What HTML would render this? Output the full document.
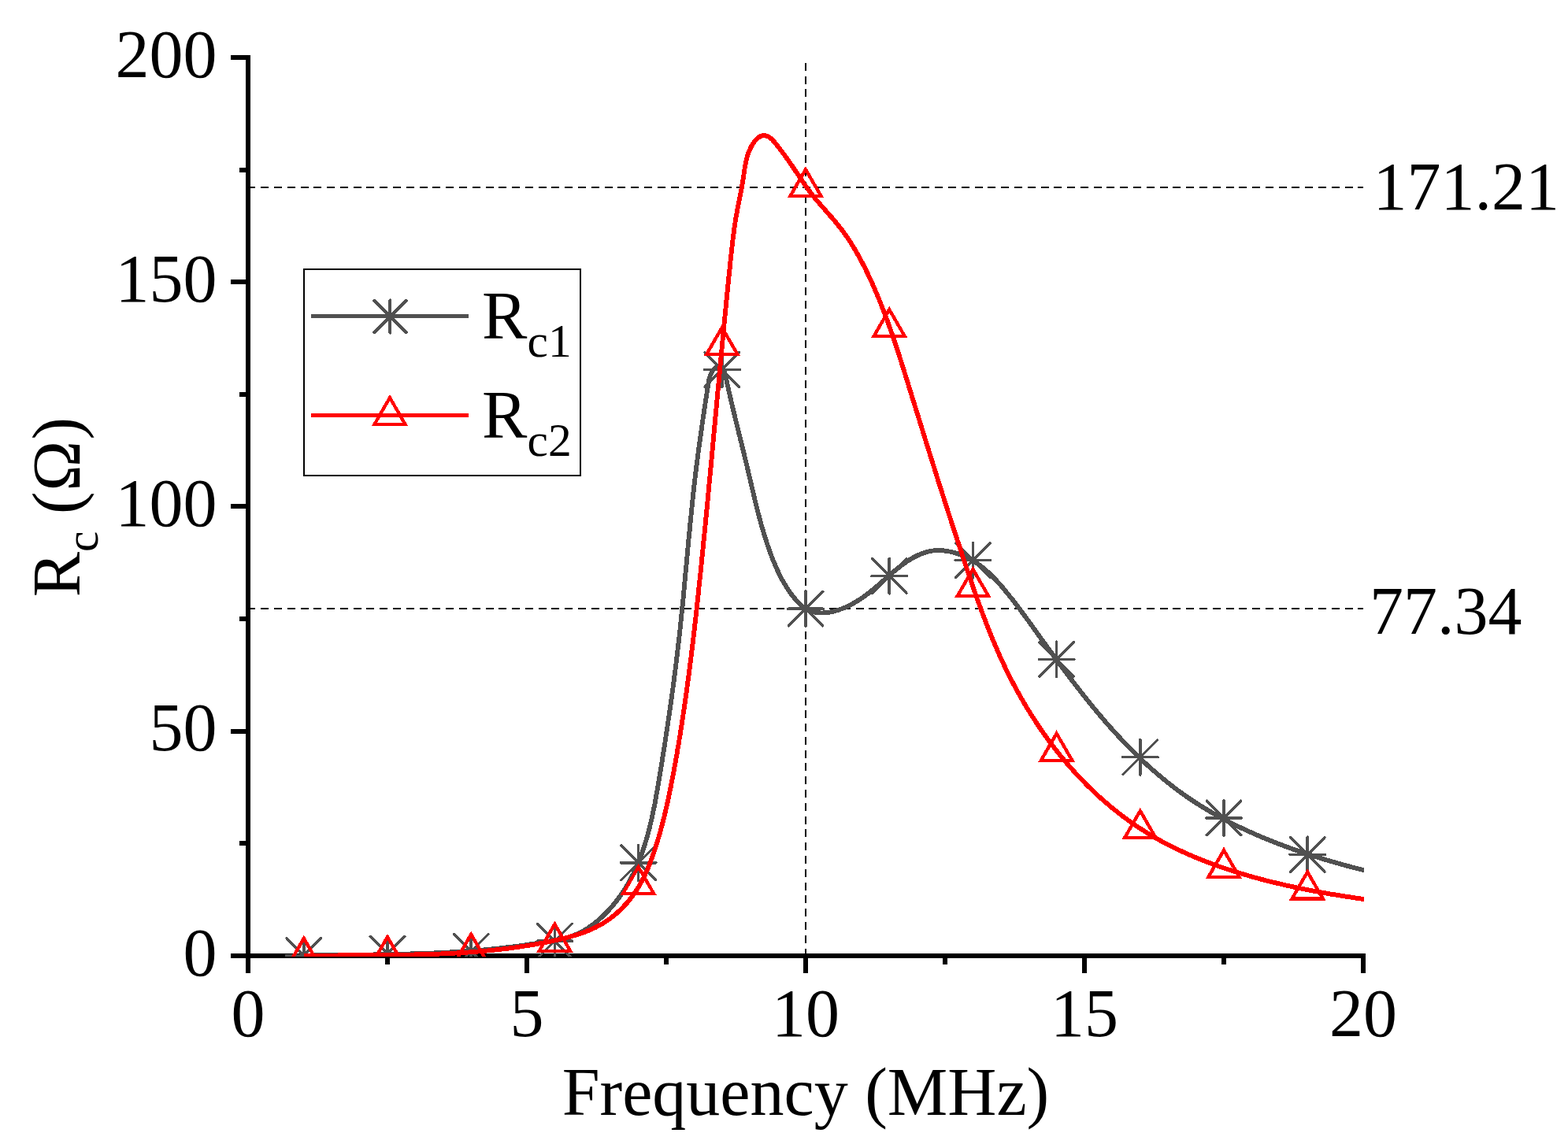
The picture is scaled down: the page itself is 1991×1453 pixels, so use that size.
<!DOCTYPE html>
<html lang="en"><head><meta charset="utf-8"><title>Rc versus Frequency</title>
<style>
html,body{margin:0;padding:0;background:#fff;}
body{width:1991px;height:1453px;overflow:hidden;}
svg{display:block;}
text{font-family:"Liberation Serif", "DejaVu Serif", serif;fill:#000;}
</style></head><body>
<svg width="1991" height="1453" viewBox="0 0 1991 1453">
<rect x="0" y="0" width="1991" height="1453" fill="#ffffff"/>
<defs><clipPath id="plot"><rect x="315" y="60" width="1417" height="1155"/></clipPath></defs>
<g stroke="#000" stroke-width="2.4" fill="none" stroke-dasharray="10 6.786" shape-rendering="crispEdges">
<path d="M314.4,237.9 H1731.2"/>
<path d="M314.4,772.9 H1731.2"/>
<path d="M1023.1,1214.5 V79"/>
</g>
<g fill="#000" shape-rendering="crispEdges">
<rect x="312" y="70" width="6" height="1166"/>
<rect x="293" y="1211" width="1441" height="6"/>
<rect x="293" y="70" width="20" height="6"/>
<rect x="293" y="355" width="20" height="6"/>
<rect x="293" y="640" width="20" height="6"/>
<rect x="293" y="926" width="20" height="6"/>
<rect x="293" y="1211" width="20" height="6"/>
<rect x="304" y="213" width="9" height="6"/>
<rect x="304" y="498" width="9" height="6"/>
<rect x="304" y="783" width="9" height="6"/>
<rect x="304" y="1068" width="9" height="6"/>
<rect x="312" y="1216" width="6" height="20"/>
<rect x="666" y="1216" width="6" height="20"/>
<rect x="1020" y="1216" width="6" height="20"/>
<rect x="1374" y="1216" width="6" height="20"/>
<rect x="1728" y="1216" width="6" height="20"/>
<rect x="489" y="1216" width="6" height="9"/>
<rect x="843" y="1216" width="6" height="9"/>
<rect x="1197" y="1216" width="6" height="9"/>
<rect x="1551" y="1216" width="6" height="9"/>
</g>
<g clip-path="url(#plot)" fill="none" shape-rendering="crispEdges">
<path d="M385.8,1213.7 L389.7,1213.6 L393.6,1213.5 L397.6,1213.5 L401.5,1213.4 L405.4,1213.3 L409.3,1213.3 L413.3,1213.2 L417.2,1213.2 L421.1,1213.1 L425.0,1213.1 L429.0,1213.0 L432.9,1213.0 L436.8,1212.9 L440.7,1212.9 L444.7,1212.8 L448.6,1212.8 L452.5,1212.7 L456.4,1212.7 L460.4,1212.6 L464.3,1212.6 L468.2,1212.5 L472.1,1212.5 L476.1,1212.4 L480.0,1212.3 L483.9,1212.3 L487.8,1212.2 L491.8,1212.1 L495.7,1212.1 L499.6,1212.0 L503.5,1211.9 L507.5,1211.8 L511.4,1211.7 L515.3,1211.6 L519.2,1211.5 L523.2,1211.4 L527.1,1211.3 L531.0,1211.2 L534.9,1211.0 L538.9,1210.9 L542.8,1210.8 L546.7,1210.6 L550.6,1210.5 L554.5,1210.3 L558.5,1210.1 L562.4,1209.9 L566.3,1209.7 L570.2,1209.5 L574.1,1209.3 L578.0,1209.1 L582.0,1208.8 L585.9,1208.6 L589.8,1208.3 L593.7,1208.0 L597.6,1207.8 L601.5,1207.5 L605.4,1207.1 L609.4,1206.8 L613.3,1206.5 L617.2,1206.1 L621.1,1205.8 L625.0,1205.4 L628.9,1205.0 L632.8,1204.6 L636.7,1204.1 L640.6,1203.7 L644.5,1203.2 L648.4,1202.8 L652.3,1202.3 L656.2,1201.8 L660.1,1201.3 L664.0,1200.7 L667.9,1200.2 L671.8,1199.6 L675.6,1199.0 L679.5,1198.4 L683.4,1197.8 L687.3,1197.2 L691.1,1196.5 L695.0,1195.9 L698.9,1195.2 L702.7,1194.5 L706.6,1193.8 L710.4,1193.1 L714.2,1192.3 L718.0,1191.4 L721.8,1190.4 L725.5,1189.2 L729.1,1187.8 L732.7,1186.3 L736.3,1184.6 L739.8,1182.8 L743.2,1180.8 L746.6,1178.7 L749.9,1176.4 L753.1,1174.1 L756.3,1171.6 L759.4,1169.0 L762.4,1166.4 L765.4,1163.6 L768.3,1160.8 L771.1,1158.0 L773.8,1155.1 L776.4,1152.1 L779.0,1149.1 L781.4,1146.1 L783.8,1143.0 L786.1,1139.9 L788.4,1136.8 L790.6,1133.6 L792.7,1130.3 L794.7,1127.1 L796.7,1123.8 L798.6,1120.4 L800.5,1117.0 L802.2,1113.6 L804.0,1110.2 L805.6,1106.7 L807.2,1103.2 L808.8,1099.7 L810.3,1096.2 L811.7,1092.6 L813.1,1089.0 L814.5,1085.3 L815.8,1081.7 L817.0,1078.0 L818.2,1074.3 L819.4,1070.6 L820.5,1066.8 L821.6,1063.1 L822.7,1059.3 L823.7,1055.5 L824.7,1051.7 L825.6,1047.9 L826.5,1044.0 L827.4,1040.2 L828.3,1036.3 L829.1,1032.4 L829.9,1028.6 L830.7,1024.7 L831.5,1020.8 L832.2,1016.9 L832.9,1013.0 L833.6,1009.0 L834.3,1005.1 L835.0,1001.2 L835.7,997.3 L836.3,993.4 L837.0,989.4 L837.6,985.5 L838.3,981.6 L838.9,977.7 L839.5,973.8 L840.2,969.9 L840.8,966.0 L841.4,962.1 L842.0,958.2 L842.6,954.3 L843.2,950.4 L843.9,946.5 L844.5,942.6 L845.1,938.7 L845.6,934.8 L846.2,930.9 L846.8,927.1 L847.4,923.2 L848.0,919.3 L848.5,915.4 L849.1,911.6 L849.7,907.7 L850.2,903.8 L850.8,900.0 L851.3,896.1 L851.9,892.2 L852.4,888.4 L853.0,884.5 L853.5,880.6 L854.0,876.8 L854.6,872.9 L855.1,869.0 L855.6,865.2 L856.1,861.3 L856.6,857.4 L857.1,853.6 L857.6,849.7 L858.1,845.8 L858.6,842.0 L859.0,838.1 L859.5,834.2 L860.0,830.3 L860.4,826.5 L860.9,822.6 L861.3,818.7 L861.8,814.8 L862.2,810.9 L862.7,807.1 L863.1,803.2 L863.5,799.3 L863.9,795.4 L864.3,791.5 L864.7,787.6 L865.1,783.7 L865.5,779.8 L865.9,775.9 L866.3,772.0 L866.7,768.1 L867.1,764.2 L867.5,760.3 L867.9,756.3 L868.2,752.4 L868.6,748.5 L869.0,744.6 L869.3,740.7 L869.7,736.8 L870.1,732.8 L870.4,728.9 L870.8,725.0 L871.2,721.1 L871.5,717.2 L871.9,713.2 L872.3,709.3 L872.6,705.4 L873.0,701.5 L873.3,697.5 L873.7,693.6 L874.1,689.7 L874.4,685.8 L874.8,681.9 L875.2,677.9 L875.6,674.0 L875.9,670.1 L876.3,666.2 L876.7,662.3 L877.1,658.3 L877.5,654.4 L877.9,650.5 L878.3,646.6 L878.7,642.7 L879.1,638.8 L879.5,634.9 L879.9,631.0 L880.3,627.1 L880.7,623.1 L881.2,619.2 L881.6,615.3 L882.1,611.4 L882.5,607.6 L883.0,603.7 L883.4,599.8 L883.9,595.9 L884.4,592.0 L884.9,588.1 L885.4,584.2 L885.9,580.3 L886.4,576.5 L886.9,572.6 L887.4,568.7 L887.9,564.8 L888.5,561.0 L889.0,557.1 L889.6,553.2 L890.1,549.4 L890.7,545.5 L891.2,541.6 L891.8,537.7 L892.3,533.9 L892.9,530.0 L893.5,526.1 L894.1,522.2 L894.6,518.4 L895.2,514.5 L895.8,510.6 L896.4,506.7 L897.0,502.8 L897.6,498.9 L898.2,495.0 L898.8,491.1 L899.4,487.2 L900.1,483.3 L901.0,479.5 L902.3,475.8 L904.0,472.2 L906.3,469.0 L909.3,466.7 L913.0,466.0 L917.0,467.4 L919.4,470.4 L920.5,474.2 L921.4,478.1 L922.2,481.9 L923.1,485.8 L923.9,489.6 L924.8,493.4 L925.6,497.2 L926.5,501.1 L927.4,504.9 L928.2,508.7 L929.1,512.5 L930.0,516.3 L930.9,520.1 L931.9,523.9 L932.8,527.7 L933.7,531.5 L934.6,535.3 L935.6,539.1 L936.5,543.0 L937.4,546.8 L938.3,550.6 L939.3,554.4 L940.2,558.2 L941.2,562.0 L942.1,565.8 L943.0,569.6 L944.0,573.4 L944.9,577.2 L945.8,581.1 L946.7,584.9 L947.6,588.7 L948.6,592.5 L949.5,596.4 L950.4,600.2 L951.3,604.0 L952.2,607.9 L953.1,611.7 L954.0,615.5 L954.9,619.4 L955.8,623.2 L956.7,627.0 L957.6,630.9 L958.5,634.7 L959.4,638.5 L960.4,642.4 L961.3,646.2 L962.3,650.0 L963.3,653.8 L964.3,657.6 L965.3,661.4 L966.3,665.1 L967.4,668.9 L968.5,672.7 L969.6,676.4 L970.7,680.2 L971.9,683.9 L973.1,687.6 L974.3,691.3 L975.6,695.0 L976.9,698.7 L978.2,702.3 L979.5,706.0 L980.9,709.6 L982.4,713.2 L983.9,716.8 L985.4,720.4 L987.0,723.9 L988.6,727.4 L990.4,730.9 L992.1,734.4 L994.0,737.9 L996.0,741.3 L998.1,744.7 L1000.2,748.1 L1002.5,751.5 L1004.9,754.8 L1007.4,758.1 L1010.0,761.3 L1012.8,764.4 L1015.7,767.3 L1018.7,769.9 L1021.8,772.3 L1025.1,774.2 L1028.5,775.8 L1032.1,777.0 L1035.7,777.8 L1039.4,778.3 L1043.2,778.5 L1047.1,778.4 L1050.9,778.0 L1054.8,777.4 L1058.7,776.5 L1062.6,775.4 L1066.4,774.1 L1070.2,772.7 L1074.0,771.1 L1077.7,769.4 L1081.2,767.6 L1084.7,765.6 L1088.1,763.6 L1091.4,761.5 L1094.6,759.4 L1097.7,757.2 L1100.8,754.9 L1103.8,752.5 L1106.8,750.1 L1109.8,747.7 L1112.7,745.2 L1115.7,742.7 L1118.6,740.2 L1121.5,737.6 L1124.5,735.0 L1127.5,732.4 L1130.5,729.8 L1133.6,727.1 L1136.7,724.5 L1139.8,722.0 L1143.0,719.5 L1146.2,717.0 L1149.4,714.7 L1152.8,712.4 L1156.1,710.3 L1159.5,708.3 L1162.9,706.5 L1166.4,704.8 L1170.0,703.3 L1173.6,702.0 L1177.2,701.0 L1180.9,700.1 L1184.6,699.5 L1188.4,699.2 L1192.3,699.1 L1196.1,699.2 L1200.0,699.6 L1203.8,700.2 L1207.7,700.9 L1211.5,701.9 L1215.3,703.0 L1219.1,704.4 L1222.8,705.8 L1226.5,707.5 L1230.1,709.3 L1233.6,711.2 L1237.0,713.2 L1240.3,715.4 L1243.5,717.7 L1246.7,720.0 L1249.7,722.5 L1252.7,725.1 L1255.7,727.7 L1258.5,730.4 L1261.3,733.2 L1264.0,736.0 L1266.7,738.9 L1269.3,741.9 L1271.9,744.8 L1274.5,747.8 L1277.0,750.9 L1279.5,753.9 L1281.9,757.0 L1284.4,760.0 L1286.8,763.1 L1289.1,766.2 L1291.5,769.3 L1293.9,772.4 L1296.2,775.5 L1298.5,778.6 L1300.8,781.8 L1303.1,784.9 L1305.4,788.0 L1307.7,791.2 L1309.9,794.3 L1312.2,797.5 L1314.5,800.7 L1316.8,803.8 L1319.0,807.0 L1321.3,810.2 L1323.6,813.3 L1325.9,816.5 L1328.2,819.7 L1330.5,822.9 L1332.8,826.0 L1335.1,829.2 L1337.4,832.4 L1339.7,835.5 L1342.1,838.7 L1344.4,841.9 L1346.8,845.0 L1349.1,848.2 L1351.5,851.4 L1353.8,854.5 L1356.2,857.7 L1358.6,860.8 L1361.0,863.9 L1363.4,867.1 L1365.8,870.2 L1368.2,873.3 L1370.6,876.4 L1373.1,879.5 L1375.5,882.6 L1378.0,885.7 L1380.4,888.8 L1382.9,891.9 L1385.4,895.0 L1387.9,898.0 L1390.4,901.0 L1392.9,904.1 L1395.5,907.1 L1398.0,910.1 L1400.6,913.1 L1403.1,916.1 L1405.7,919.1 L1408.3,922.0 L1410.9,925.0 L1413.6,927.9 L1416.2,930.8 L1418.9,933.7 L1421.5,936.6 L1424.2,939.5 L1426.9,942.3 L1429.6,945.1 L1432.3,948.0 L1435.1,950.8 L1437.8,953.5 L1440.6,956.3 L1443.4,959.0 L1446.2,961.8 L1449.0,964.5 L1451.9,967.2 L1454.7,969.8 L1457.6,972.5 L1460.5,975.1 L1463.4,977.7 L1466.4,980.2 L1469.3,982.8 L1472.3,985.3 L1475.3,987.8 L1478.3,990.3 L1481.3,992.8 L1484.4,995.2 L1487.4,997.6 L1490.5,1000.0 L1493.6,1002.3 L1496.7,1004.6 L1499.9,1006.9 L1503.1,1009.2 L1506.3,1011.5 L1509.5,1013.7 L1512.7,1015.8 L1516.0,1018.0 L1519.2,1020.1 L1522.5,1022.2 L1525.9,1024.3 L1529.2,1026.4 L1532.6,1028.4 L1535.9,1030.4 L1539.3,1032.3 L1542.7,1034.3 L1546.2,1036.2 L1549.6,1038.1 L1553.1,1039.9 L1556.5,1041.8 L1560.0,1043.6 L1563.5,1045.4 L1567.0,1047.1 L1570.6,1048.9 L1574.1,1050.6 L1577.7,1052.3 L1581.3,1054.0 L1584.8,1055.6 L1588.4,1057.2 L1592.1,1058.8 L1595.7,1060.4 L1599.3,1062.0 L1602.9,1063.5 L1606.6,1065.0 L1610.3,1066.5 L1613.9,1068.0 L1617.6,1069.5 L1621.3,1070.9 L1625.0,1072.3 L1628.7,1073.7 L1632.4,1075.1 L1636.1,1076.4 L1639.8,1077.8 L1643.5,1079.1 L1647.3,1080.4 L1651.0,1081.7 L1654.8,1082.9 L1658.5,1084.2 L1662.2,1085.4 L1666.0,1086.6 L1669.7,1087.8 L1673.5,1089.0 L1677.3,1090.1 L1681.0,1091.3 L1684.8,1092.4 L1688.5,1093.5 L1692.3,1094.6 L1696.0,1095.7 L1699.8,1096.8 L1703.5,1097.8 L1707.3,1098.9 L1711.1,1099.9 L1714.8,1100.9 L1718.5,1101.9 L1722.3,1102.9 L1726.0,1103.8 L1729.8,1104.8 L1733.5,1105.7 L1737.2,1106.7 L1740.9,1107.6 L1744.6,1108.5" stroke="#505050" stroke-width="5.90" stroke-linejoin="round"/>
<path d="M363.5,1213.4 h44.6 M385.8,1191.1 v44.6 M364.1,1191.7 l43.4,43.4 M364.1,1235.1 l43.4,-43.4" stroke="#505050" stroke-width="3.50" stroke-linecap="round"/>
<path d="M469.7,1211.3 h44.6 M492.0,1189.0 v44.6 M470.3,1189.6 l43.4,43.4 M470.3,1233.0 l43.4,-43.4" stroke="#505050" stroke-width="3.50" stroke-linecap="round"/>
<path d="M575.9,1208.3 h44.6 M598.2,1186.0 v44.6 M576.5,1186.6 l43.4,43.4 M576.5,1230.0 l43.4,-43.4" stroke="#505050" stroke-width="3.50" stroke-linecap="round"/>
<path d="M682.1,1195.1 h44.6 M704.4,1172.8 v44.6 M682.7,1173.4 l43.4,43.4 M682.7,1216.8 l43.4,-43.4" stroke="#505050" stroke-width="3.50" stroke-linecap="round"/>
<path d="M788.3,1095.9 h44.6 M810.6,1073.6 v44.6 M788.9,1074.2 l43.4,43.4 M788.9,1117.6 l43.4,-43.4" stroke="#505050" stroke-width="3.50" stroke-linecap="round"/>
<path d="M894.5,469.5 h44.6 M916.8,447.2 v44.6 M895.1,447.8 l43.4,43.4 M895.1,491.2 l43.4,-43.4" stroke="#505050" stroke-width="3.50" stroke-linecap="round"/>
<path d="M1000.7,773.2 h44.6 M1023.0,750.9 v44.6 M1001.3,751.5 l43.4,43.4 M1001.3,794.9 l43.4,-43.4" stroke="#505050" stroke-width="3.50" stroke-linecap="round"/>
<path d="M1106.9,731.6 h44.6 M1129.2,709.3 v44.6 M1107.5,709.9 l43.4,43.4 M1107.5,753.3 l43.4,-43.4" stroke="#505050" stroke-width="3.50" stroke-linecap="round"/>
<path d="M1213.1,711.7 h44.6 M1235.4,689.4 v44.6 M1213.7,690.0 l43.4,43.4 M1213.7,733.4 l43.4,-43.4" stroke="#505050" stroke-width="3.50" stroke-linecap="round"/>
<path d="M1319.3,837.4 h44.6 M1341.6,815.1 v44.6 M1319.9,815.7 l43.4,43.4 M1319.9,859.1 l43.4,-43.4" stroke="#505050" stroke-width="3.50" stroke-linecap="round"/>
<path d="M1425.5,961.7 h44.6 M1447.8,939.4 v44.6 M1426.1,940.0 l43.4,43.4 M1426.1,983.4 l43.4,-43.4" stroke="#505050" stroke-width="3.50" stroke-linecap="round"/>
<path d="M1531.7,1038.9 h44.6 M1554.0,1016.6 v44.6 M1532.3,1017.2 l43.4,43.4 M1532.3,1060.6 l43.4,-43.4" stroke="#505050" stroke-width="3.50" stroke-linecap="round"/>
<path d="M1637.9,1085.4 h44.6 M1660.2,1063.1 v44.6 M1638.5,1063.7 l43.4,43.4 M1638.5,1107.1 l43.4,-43.4" stroke="#505050" stroke-width="3.50" stroke-linecap="round"/>
<path d="M385.8,1214.0 L390.4,1213.9 L395.0,1213.9 L399.6,1213.8 L404.2,1213.7 L408.8,1213.7 L413.5,1213.6 L418.1,1213.6 L422.7,1213.5 L427.3,1213.5 L431.9,1213.4 L436.5,1213.4 L441.1,1213.4 L445.7,1213.4 L450.4,1213.3 L455.0,1213.3 L459.6,1213.3 L464.2,1213.2 L468.8,1213.2 L473.4,1213.2 L478.0,1213.2 L482.7,1213.1 L487.3,1213.1 L491.9,1213.0 L496.5,1213.0 L501.1,1212.9 L505.7,1212.9 L510.4,1212.8 L515.0,1212.7 L519.6,1212.6 L524.2,1212.5 L528.8,1212.4 L533.4,1212.3 L538.0,1212.2 L542.7,1212.1 L547.3,1211.9 L551.9,1211.8 L556.5,1211.6 L561.1,1211.4 L565.7,1211.2 L570.3,1211.0 L574.9,1210.7 L579.5,1210.5 L584.1,1210.2 L588.7,1209.9 L593.3,1209.6 L597.9,1209.3 L602.5,1208.9 L607.1,1208.5 L611.7,1208.2 L616.3,1207.7 L620.8,1207.3 L625.4,1206.8 L630.0,1206.4 L634.6,1205.9 L639.2,1205.3 L643.7,1204.8 L648.3,1204.2 L652.9,1203.6 L657.4,1202.9 L662.0,1202.2 L666.6,1201.5 L671.1,1200.8 L675.7,1200.0 L680.2,1199.3 L684.8,1198.4 L689.3,1197.6 L693.8,1196.7 L698.4,1195.8 L702.9,1194.8 L707.4,1193.8 L712.0,1192.8 L716.5,1191.7 L721.0,1190.5 L725.4,1189.3 L729.9,1188.0 L734.3,1186.7 L738.6,1185.2 L742.9,1183.6 L747.2,1181.9 L751.4,1180.1 L755.6,1178.2 L759.6,1176.1 L763.6,1173.9 L767.6,1171.5 L771.4,1168.9 L775.2,1166.3 L778.8,1163.4 L782.4,1160.5 L785.8,1157.4 L789.2,1154.2 L792.4,1150.8 L795.6,1147.4 L798.6,1143.9 L801.5,1140.2 L804.2,1136.5 L806.9,1132.7 L809.4,1128.9 L811.7,1124.9 L814.0,1120.9 L816.1,1116.9 L818.2,1112.8 L820.1,1108.6 L822.0,1104.4 L823.8,1100.1 L825.5,1095.8 L827.1,1091.5 L828.7,1087.2 L830.2,1082.8 L831.7,1078.4 L833.1,1074.0 L834.5,1069.6 L835.8,1065.2 L837.1,1060.8 L838.4,1056.3 L839.6,1051.9 L840.8,1047.4 L841.9,1042.9 L843.1,1038.5 L844.2,1034.0 L845.2,1029.5 L846.3,1025.0 L847.3,1020.5 L848.3,1016.0 L849.2,1011.5 L850.2,1007.0 L851.1,1002.5 L852.0,998.0 L852.9,993.4 L853.8,988.9 L854.6,984.4 L855.5,979.8 L856.3,975.3 L857.2,970.8 L858.0,966.2 L858.8,961.7 L859.6,957.1 L860.3,952.6 L861.1,948.0 L861.9,943.5 L862.6,939.0 L863.4,934.4 L864.1,929.8 L864.8,925.3 L865.5,920.7 L866.2,916.2 L866.9,911.6 L867.6,907.1 L868.3,902.5 L869.0,897.9 L869.6,893.4 L870.3,888.8 L870.9,884.2 L871.6,879.7 L872.2,875.1 L872.8,870.5 L873.4,866.0 L874.1,861.4 L874.7,856.8 L875.2,852.2 L875.8,847.7 L876.4,843.1 L877.0,838.5 L877.6,833.9 L878.1,829.4 L878.7,824.8 L879.2,820.2 L879.8,815.6 L880.3,811.0 L880.9,806.5 L881.4,801.9 L881.9,797.3 L882.4,792.7 L883.0,788.1 L883.5,783.5 L884.0,779.0 L884.5,774.4 L885.0,769.8 L885.5,765.2 L886.0,760.6 L886.5,756.0 L887.0,751.4 L887.4,746.8 L887.9,742.3 L888.4,737.7 L888.9,733.1 L889.4,728.5 L889.8,723.9 L890.3,719.3 L890.8,714.7 L891.2,710.1 L891.7,705.5 L892.2,701.0 L892.6,696.4 L893.1,691.8 L893.5,687.2 L894.0,682.6 L894.5,678.0 L894.9,673.4 L895.4,668.8 L895.8,664.2 L896.3,659.6 L896.7,655.0 L897.1,650.5 L897.6,645.9 L898.0,641.3 L898.5,636.7 L898.9,632.1 L899.3,627.5 L899.8,622.9 L900.2,618.3 L900.6,613.7 L901.1,609.1 L901.5,604.5 L901.9,599.9 L902.4,595.3 L902.8,590.8 L903.2,586.2 L903.7,581.6 L904.1,577.0 L904.5,572.4 L904.9,567.8 L905.4,563.2 L905.8,558.6 L906.2,554.0 L906.6,549.4 L907.1,544.8 L907.5,540.2 L907.9,535.6 L908.3,531.1 L908.8,526.5 L909.2,521.9 L909.6,517.3 L910.0,512.7 L910.5,508.1 L910.9,503.5 L911.3,498.9 L911.7,494.3 L912.2,489.7 L912.6,485.1 L913.0,480.5 L913.4,475.9 L913.9,471.4 L914.3,466.8 L914.7,462.2 L915.2,457.6 L915.6,453.0 L916.0,448.4 L916.5,443.8 L916.9,439.2 L917.3,434.6 L917.8,430.0 L918.2,425.4 L918.7,420.8 L919.1,416.2 L919.5,411.7 L920.0,407.1 L920.4,402.5 L920.9,397.9 L921.3,393.3 L921.8,388.7 L922.2,384.1 L922.7,379.5 L923.1,374.9 L923.6,370.3 L924.1,365.7 L924.5,361.2 L925.0,356.6 L925.4,352.0 L925.9,347.4 L926.4,342.8 L926.9,338.2 L927.3,333.6 L927.8,329.0 L928.3,324.4 L928.8,319.8 L929.3,315.2 L929.8,310.7 L930.3,306.1 L930.9,301.5 L931.5,296.9 L932.1,292.4 L932.7,287.8 L933.4,283.2 L934.1,278.7 L934.9,274.1 L935.7,269.6 L936.5,265.1 L937.4,260.5 L938.3,256.0 L939.2,251.5 L940.1,247.0 L941.0,242.5 L941.9,237.9 L942.7,233.4 L943.4,228.8 L944.1,224.3 L944.8,219.7 L945.4,215.2 L946.2,210.6 L947.0,206.1 L948.1,201.7 L949.3,197.3 L950.8,192.9 L952.7,188.6 L954.9,184.4 L957.6,180.4 L960.7,176.6 L964.3,173.7 L968.3,172.2 L972.6,172.4 L976.9,174.2 L980.5,177.2 L983.7,180.8 L986.7,184.6 L989.6,188.3 L992.4,191.9 L995.1,195.6 L997.8,199.3 L1000.5,203.0 L1003.0,206.7 L1005.6,210.4 L1008.2,214.2 L1010.7,218.0 L1013.3,221.8 L1015.9,225.6 L1018.4,229.4 L1021.1,233.3 L1023.7,237.1 L1026.4,240.8 L1029.2,244.6 L1032.0,248.2 L1034.9,251.8 L1037.9,255.4 L1040.9,258.9 L1043.9,262.4 L1047.0,265.8 L1050.0,269.3 L1053.0,272.8 L1056.1,276.2 L1059.1,279.7 L1062.0,283.2 L1064.9,286.8 L1067.8,290.4 L1070.5,294.1 L1073.2,297.8 L1075.9,301.6 L1078.4,305.4 L1080.9,309.3 L1083.3,313.2 L1085.7,317.2 L1088.0,321.2 L1090.3,325.2 L1092.5,329.3 L1094.7,333.4 L1096.8,337.5 L1098.9,341.6 L1100.9,345.8 L1102.9,349.9 L1104.8,354.1 L1106.8,358.3 L1108.7,362.5 L1110.5,366.7 L1112.3,371.0 L1114.1,375.2 L1115.9,379.5 L1117.6,383.7 L1119.3,388.0 L1121.0,392.3 L1122.7,396.6 L1124.3,400.9 L1125.9,405.2 L1127.5,409.5 L1129.0,413.9 L1130.6,418.2 L1132.1,422.6 L1133.6,426.9 L1135.1,431.3 L1136.6,435.7 L1138.0,440.0 L1139.5,444.4 L1140.9,448.8 L1142.3,453.2 L1143.7,457.6 L1145.1,462.0 L1146.5,466.4 L1147.9,470.8 L1149.2,475.2 L1150.6,479.6 L1152.0,484.0 L1153.3,488.4 L1154.7,492.9 L1156.1,497.3 L1157.4,501.7 L1158.8,506.1 L1160.2,510.5 L1161.5,514.9 L1162.9,519.3 L1164.2,523.7 L1165.6,528.1 L1167.0,532.5 L1168.3,536.9 L1169.7,541.3 L1171.1,545.7 L1172.4,550.2 L1173.8,554.6 L1175.2,559.0 L1176.5,563.4 L1177.9,567.8 L1179.3,572.2 L1180.7,576.6 L1182.0,581.0 L1183.4,585.4 L1184.8,589.8 L1186.2,594.2 L1187.6,598.6 L1188.9,603.0 L1190.3,607.4 L1191.7,611.8 L1193.1,616.2 L1194.5,620.5 L1195.9,624.9 L1197.3,629.3 L1198.7,633.7 L1200.1,638.1 L1201.5,642.5 L1202.9,646.9 L1204.3,651.3 L1205.7,655.7 L1207.2,660.1 L1208.6,664.5 L1210.0,668.8 L1211.4,673.2 L1212.9,677.6 L1214.3,682.0 L1215.7,686.4 L1217.2,690.8 L1218.6,695.1 L1220.1,699.5 L1221.5,703.9 L1223.0,708.3 L1224.4,712.7 L1225.9,717.0 L1227.3,721.4 L1228.8,725.8 L1230.3,730.1 L1231.8,734.5 L1233.3,738.9 L1234.8,743.2 L1236.3,747.6 L1237.8,752.0 L1239.3,756.3 L1240.8,760.7 L1242.4,765.0 L1244.0,769.3 L1245.6,773.7 L1247.1,778.0 L1248.8,782.3 L1250.4,786.6 L1252.0,790.9 L1253.7,795.2 L1255.4,799.5 L1257.1,803.8 L1258.8,808.1 L1260.6,812.3 L1262.4,816.6 L1264.2,820.8 L1266.0,825.1 L1267.8,829.3 L1269.7,833.5 L1271.6,837.7 L1273.6,841.9 L1275.5,846.0 L1277.5,850.2 L1279.5,854.4 L1281.6,858.5 L1283.7,862.6 L1285.8,866.7 L1288.0,870.8 L1290.2,874.9 L1292.4,878.9 L1294.6,883.0 L1296.9,887.0 L1299.2,891.0 L1301.6,895.0 L1303.9,899.0 L1306.4,902.9 L1308.8,906.8 L1311.3,910.7 L1313.8,914.6 L1316.3,918.5 L1318.9,922.3 L1321.5,926.2 L1324.1,930.0 L1326.8,933.7 L1329.5,937.5 L1332.2,941.2 L1335.0,944.9 L1337.8,948.6 L1340.6,952.2 L1343.5,955.9 L1346.3,959.5 L1349.3,963.0 L1352.2,966.6 L1355.2,970.1 L1358.2,973.6 L1361.3,977.0 L1364.3,980.4 L1367.5,983.8 L1370.6,987.2 L1373.8,990.5 L1377.0,993.8 L1380.2,997.1 L1383.5,1000.3 L1386.8,1003.5 L1390.1,1006.7 L1393.5,1009.8 L1396.8,1012.9 L1400.3,1015.9 L1403.7,1018.9 L1407.2,1021.9 L1410.7,1024.9 L1414.3,1027.8 L1417.9,1030.6 L1421.5,1033.5 L1425.1,1036.3 L1428.8,1039.0 L1432.5,1041.7 L1436.2,1044.4 L1440.0,1047.0 L1443.8,1049.6 L1447.6,1052.1 L1451.5,1054.6 L1455.4,1057.1 L1459.3,1059.5 L1463.2,1061.9 L1467.2,1064.2 L1471.2,1066.5 L1475.3,1068.7 L1479.3,1070.9 L1483.4,1073.0 L1487.6,1075.1 L1491.7,1077.2 L1495.9,1079.2 L1500.1,1081.1 L1504.3,1083.1 L1508.5,1085.0 L1512.8,1086.8 L1517.1,1088.6 L1521.4,1090.4 L1525.7,1092.1 L1530.0,1093.8 L1534.4,1095.5 L1538.7,1097.1 L1543.1,1098.7 L1547.5,1100.3 L1551.9,1101.8 L1556.3,1103.3 L1560.7,1104.7 L1565.1,1106.1 L1569.5,1107.5 L1573.9,1108.9 L1578.3,1110.2 L1582.8,1111.5 L1587.2,1112.8 L1591.6,1114.1 L1596.0,1115.3 L1600.5,1116.5 L1604.9,1117.6 L1609.3,1118.8 L1613.8,1119.9 L1618.2,1121.0 L1622.7,1122.0 L1627.1,1123.1 L1631.6,1124.1 L1636.0,1125.1 L1640.5,1126.1 L1645.0,1127.0 L1649.4,1128.0 L1653.9,1128.9 L1658.4,1129.8 L1662.9,1130.7 L1667.4,1131.5 L1671.9,1132.4 L1676.4,1133.2 L1681.0,1134.0 L1685.5,1134.8 L1690.0,1135.6 L1694.6,1136.3 L1699.1,1137.1 L1703.7,1137.8 L1708.3,1138.5 L1712.8,1139.2 L1717.4,1139.9 L1722.0,1140.6 L1726.7,1141.3 L1731.3,1142.0 L1735.9,1142.6 L1740.6,1143.3 L1745.2,1143.9" stroke="#ff0000" stroke-width="5.90" stroke-linejoin="round"/>
<path d="M385.8,1191.8 L405.5,1225.9 L366.1,1225.9 Z" stroke="#ff0000" stroke-width="4.30" stroke-linejoin="miter"/>
<path d="M492.0,1190.0 L511.7,1224.1 L472.3,1224.1 Z" stroke="#ff0000" stroke-width="4.30" stroke-linejoin="miter"/>
<path d="M598.2,1186.7 L617.9,1220.8 L578.5,1220.8 Z" stroke="#ff0000" stroke-width="4.30" stroke-linejoin="miter"/>
<path d="M704.4,1173.7 L724.1,1207.8 L684.7,1207.8 Z" stroke="#ff0000" stroke-width="4.30" stroke-linejoin="miter"/>
<path d="M810.6,1101.1 L830.3,1135.2 L790.9,1135.2 Z" stroke="#ff0000" stroke-width="4.30" stroke-linejoin="miter"/>
<path d="M916.8,416.0 L936.5,450.1 L897.1,450.1 Z" stroke="#ff0000" stroke-width="4.30" stroke-linejoin="miter"/>
<path d="M1023.0,215.2 L1042.7,249.3 L1003.3,249.3 Z" stroke="#ff0000" stroke-width="4.30" stroke-linejoin="miter"/>
<path d="M1129.2,393.1 L1148.9,427.2 L1109.5,427.2 Z" stroke="#ff0000" stroke-width="4.30" stroke-linejoin="miter"/>
<path d="M1235.4,722.9 L1255.1,757.0 L1215.7,757.0 Z" stroke="#ff0000" stroke-width="4.30" stroke-linejoin="miter"/>
<path d="M1341.6,931.6 L1361.3,965.7 L1321.9,965.7 Z" stroke="#ff0000" stroke-width="4.30" stroke-linejoin="miter"/>
<path d="M1447.8,1029.9 L1467.5,1064.0 L1428.1,1064.0 Z" stroke="#ff0000" stroke-width="4.30" stroke-linejoin="miter"/>
<path d="M1554.0,1079.9 L1573.7,1114.0 L1534.3,1114.0 Z" stroke="#ff0000" stroke-width="4.30" stroke-linejoin="miter"/>
<path d="M1660.2,1107.5 L1679.9,1141.6 L1640.5,1141.6 Z" stroke="#ff0000" stroke-width="4.30" stroke-linejoin="miter"/>
</g>
<g font-size="86.0" text-anchor="end">
<text x="275.5" y="97.6">200</text>
<text x="275.5" y="382.9">150</text>
<text x="275.5" y="668.1">100</text>
<text x="275.5" y="953.4">50</text>
<text x="275.5" y="1238.6">0</text>
</g>
<g font-size="86.0" text-anchor="middle">
<text x="315.0" y="1315.8">0</text>
<text x="669.0" y="1315.8">5</text>
<text x="1023.0" y="1315.8">10</text>
<text x="1377.0" y="1315.8">15</text>
<text x="1731.0" y="1315.8">20</text>
</g>
<text x="1023" y="1416" font-size="86.0" text-anchor="middle">Frequency (MHz)</text>
<text transform="translate(101,644) rotate(-90)" font-size="86.0" text-anchor="middle">R<tspan font-size="59.5" dy="23">c</tspan><tspan dy="-23"> (</tspan><tspan dx="0.5">Ω</tspan><tspan dx="1.5">)</tspan></text>
<text x="1743.4" y="266.0" font-size="86.0">171.21</text>
<text x="1739" y="805.0" font-size="86.0">77.34</text>
<rect x="386" y="342" width="351" height="262" fill="#fff" stroke="#000" stroke-width="2" shape-rendering="crispEdges"/>
<path d="M395.2,401.5 H594.7" stroke="#505050" stroke-width="5" fill="none" shape-rendering="crispEdges"/>
<g fill="none" shape-rendering="crispEdges"><path d="M474.7,402.0 h41.4 M495.4,381.3 v41.4 M475.1,381.7 l40.6,40.6 M475.1,422.3 l40.6,-40.6" stroke="#505050" stroke-width="4.00" stroke-linecap="round"/></g>
<path d="M395.2,527.5 H594.7" stroke="#ff0000" stroke-width="5" fill="none" shape-rendering="crispEdges"/>
<g fill="none" shape-rendering="crispEdges"><path d="M495.0,505.1 L514.7,539.2 L475.3,539.2 Z" stroke="#ff0000" stroke-width="4.30" stroke-linejoin="miter"/></g>
<text x="612.1" y="430.2" font-size="86.0">R<tspan font-size="59.5" dy="23">c1</tspan></text>
<text x="612.1" y="555.8" font-size="86.0">R<tspan font-size="59.5" dy="23.5">c2</tspan></text>
</svg>
</body></html>
